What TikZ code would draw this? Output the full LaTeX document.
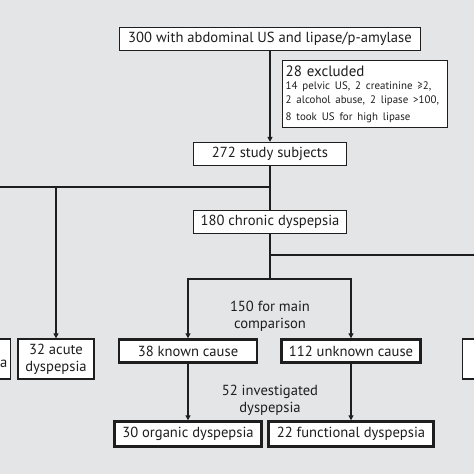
\documentclass[tikz,border=0pt]{standalone}
\usepackage{fontspec}
\setmainfont{PT Sans}
\usepackage{tikz}
\usetikzlibrary{arrows.meta,positioning}
\definecolor{panel}{RGB}{228,229,230}
\definecolor{ink}{RGB}{30,30,30}

\begin{document}
\begin{tikzpicture}[x=1pt,y=-1pt,
  every node/.style={font=\fontsize{14.6}{17}\selectfont, text=ink},
  box/.style={draw=ink, fill=white, line width=1.3pt, inner sep=0pt, minimum height=23pt},
  boldbox/.style={box, line width=2.4pt},
  thin/.style={draw=ink, line width=1.2pt},
  heavy/.style={draw=ink, line width=2.4pt},
  tip/.style={-{Triangle[length=5pt,width=5pt]}}]
  \fill[panel] (0,0) rectangle (474,474);
  \useasboundingbox (0,0) rectangle (474,474);
  \clip (0,0) rectangle (474,474);

  \node[box, minimum width=301pt, line width=1.5pt] (start) at (270,39) {300 with abdominal US and lipase/p-amylase};
  \node[box, minimum width=165pt, minimum height=67pt, align=left, anchor=north west, inner xsep=3pt, inner ysep=4pt, text width=159pt] (excl) at (282,60)
    {{\fontsize{15}{17}\selectfont 28 excluded}\\[-1pt]
     {\fontsize{10.9}{14}\selectfont 14 pelvic US, 2 creatinine ≥2,\\ 2 alcohol abuse, 2 lipase >100,\\ 8 took US for high lipase}};
  \node[box, minimum width=153pt] (subj) at (270,154) {272 study subjects};
  \node[box, minimum width=153pt] (chron) at (270,222) {180 chronic dyspepsia};
  \node[box, minimum width=76pt, minimum height=40pt, align=center] (acute) at (56,359) {32 acute\\dyspepsia};
  \node[box, minimum height=40pt, align=right, text width=70pt, inner xsep=3pt, anchor=east] (leftcut) at (11,359) {\mbox{}\\a};
  \node[box, minimum width=76pt, minimum height=40pt, anchor=west] (rightcut) at (462,359) {};
  \node[boldbox, minimum width=138pt] (known) at (188,351) {38 known cause};
  \node[boldbox, minimum width=139pt] (unknown) at (351,351) {112 unknown cause};
  \node[boldbox, minimum width=147pt, minimum height=25pt] (organic) at (188,434) {30 organic dyspepsia};
  \node[boldbox, minimum width=165pt, minimum height=25pt] (functional) at (351,434) {22 functional dyspepsia};
  \node[align=center] (main) at (270,316) {150 for main\\comparison};
  \node[align=center] (invest) at (270,400) {52 investigated\\dyspepsia};

  \coordinate (split) at (270,279);
  \coordinate (acutesplit) at (270,187);
  \coordinate (rightsplit) at (270,255);

  \draw[heavy, tip] (start) -- (subj);
  \draw[heavy] (subj) -- (chron);
  \draw[thin] (acutesplit) -- (0,187);
  \draw[thin, tip] (acute.north |- acutesplit) -- (acute);
  \draw[heavy] (chron) -- (split);
  \draw[thin] (rightsplit) -- (474,255);
  \draw[heavy, tip] (split) -| (known);
  \draw[heavy, tip] (split) -| (unknown);
  \draw[heavy, tip] (known) -- (organic);
  \draw[heavy, tip] (unknown) -- (unknown |- functional.north);
\end{tikzpicture}
\end{document}
